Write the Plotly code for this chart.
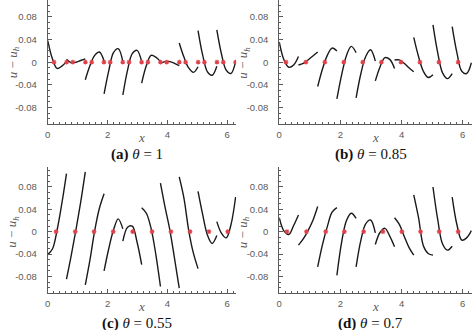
import plotly.graph_objects as go

# Element boundaries on [0, 2*pi] (10 cells)
EDGES = [0.0, 0.628, 1.257, 1.885, 2.513, 3.142, 3.770, 4.398, 5.027, 5.655, 6.283]
# sample fractions inside each cell
FRAC = [0.0, 0.25, 0.5, 0.75, 1.0]

# Pointwise error u - u_h in each cell, sampled at FRAC
ERR_A = [
    [0.038, 0.006, -0.011, -0.007, 0.001],
    [0.005, -0.001, 0.000, 0.003, 0.006],
    [-0.031, -0.006, 0.012, 0.018, 0.002],
    [-0.056, -0.015, 0.017, 0.024, 0.001],
    [-0.058, -0.014, 0.015, 0.021, 0.001],
    [-0.037, -0.006, 0.012, 0.009, 0.001],
    [-0.002, 0.001, 0.001, -0.002, -0.006],
    [0.034, 0.009, -0.010, -0.018, -0.008],
    [0.056, 0.012, -0.017, -0.023, -0.007],
    [0.057, 0.014, -0.014, -0.020, 0.001],
]
ERR_B = [
    [0.036, 0.004, -0.009, -0.005, 0.010],
    [-0.005, -0.002, 0.004, 0.011, 0.018],
    [-0.043, -0.012, 0.012, 0.025, 0.020],
    [-0.065, -0.022, 0.012, 0.028, 0.017],
    [-0.063, -0.020, 0.010, 0.022, 0.002],
    [-0.033, -0.008, 0.008, 0.005, -0.011],
    [0.004, 0.004, -0.002, -0.010, -0.017],
    [0.044, 0.010, -0.016, -0.027, -0.022],
    [0.066, 0.016, -0.019, -0.029, -0.020],
    [0.063, 0.016, -0.016, -0.020, -0.001],
]
ERR_C = [
    [-0.041, -0.031, 0.003, 0.050, 0.104],
    [-0.085, -0.043, 0.003, 0.052, 0.107],
    [-0.095, -0.050, 0.002, 0.042, 0.068],
    [-0.070, -0.030, 0.003, 0.023, 0.005],
    [-0.017, 0.008, 0.010, -0.018, -0.059],
    [0.043, 0.033, 0.006, -0.040, -0.098],
    [0.087, 0.043, 0.003, -0.048, -0.101],
    [0.098, 0.060, 0.003, -0.038, -0.066],
    [0.072, 0.030, -0.006, -0.021, -0.007],
    [0.018, -0.003, -0.011, 0.012, 0.062],
]
ERR_D = [
    [0.025, 0.001, -0.005, 0.011, 0.030],
    [-0.024, -0.013, 0.002, 0.020, 0.045],
    [-0.063, -0.023, 0.009, 0.035, 0.043],
    [-0.078, -0.018, 0.020, 0.033, 0.024],
    [-0.063, -0.015, 0.014, 0.021, -0.002],
    [-0.023, -0.001, 0.006, -0.008, -0.027],
    [0.025, 0.013, -0.008, -0.028, -0.042],
    [0.066, 0.025, -0.025, -0.039, -0.042],
    [0.080, 0.021, -0.022, -0.033, -0.026],
    [0.062, 0.012, -0.015, -0.011, 0.002],
]

# Superconvergence points (marked on the zero line)
PTS_A = [0.21, 0.63, 0.84, 1.26, 1.47, 1.88, 2.09, 2.51, 2.72, 3.14,
         3.35, 3.77, 3.98, 4.40, 4.61, 5.03, 5.24, 5.66, 5.87, 6.28]
PTS_B = [0.22, 0.87, 1.49, 2.11, 2.73, 3.34, 3.98, 4.60, 5.22, 5.85]
PTS_C = [0.28, 0.92, 1.55, 2.19, 2.84, 3.49, 4.12, 4.76, 5.39, 6.02]
PTS_D = [0.25, 0.89, 1.52, 2.13, 2.76, 3.39, 4.01, 4.62, 5.23, 5.85]

CAPTIONS = ["<b>(a)</b> <i>θ</i> = 1", "<b>(b)</b> <i>θ</i> = 0.85",
            "<b>(c)</b> <i>θ</i> = 0.55", "<b>(d)</b> <i>θ</i> = 0.7"]

Y_TICKS = [-0.08, -0.04, 0, 0.04, 0.08]
Y_LABELS = ["-0.08", "-0.04", "0", "0.04", "0.08"]
X_TICKS = [0, 2, 4, 6]
X_LABELS = ["0", "2", "4", "6"]

W, H = 474, 330
GRAY = "#5a5a5a"
STAR = "#e0404a"
SERIF = "Liberation Serif"
SANS = "Liberation Sans"

panels = [
    (ERR_A, PTS_A, (45, 234.6), (0.0, 124.4), [-0.11, 0.11]),
    (ERR_B, PTS_B, (278, 471.9), (0.0, 124.4), [-0.11, 0.11]),
    (ERR_C, PTS_C, (45, 234.6), (167.4, 293.2), [-0.11, 0.115]),
    (ERR_D, PTS_D, (278, 471.9), (167.4, 293.2), [-0.11, 0.115]),
]

fig = go.Figure()
layout = dict(width=W, height=H, margin=dict(l=0, r=0, t=0, b=0),
              plot_bgcolor="white", paper_bgcolor="white", showlegend=False,
              annotations=[])

for i, (err, pts, (x0, x1), (ytop, ybot), yr) in enumerate(panels):
    n = i + 1
    xa = "x" if n == 1 else f"x{n}"
    ya = "y" if n == 1 else f"y{n}"
    for k, vals in enumerate(err):
        a, b = EDGES[k], EDGES[k + 1]
        xs = [a + f * (b - a) for f in FRAC]
        fig.add_trace(go.Scatter(x=xs, y=vals, mode="lines",
                                 line=dict(color="#1a1a1a", width=1.4, shape="spline"),
                                 xaxis=xa, yaxis=ya, hoverinfo="skip"))
    fig.add_trace(go.Scatter(x=pts, y=[0] * len(pts), mode="markers",
                             marker=dict(symbol="asterisk-open", size=4, color=STAR,
                                         line=dict(color=STAR, width=1.1)),
                             xaxis=xa, yaxis=ya, hoverinfo="skip"))

    xkey = "xaxis" if n == 1 else f"xaxis{n}"
    ykey = "yaxis" if n == 1 else f"yaxis{n}"
    layout[xkey] = dict(
        domain=[x0 / W, x1 / W], range=[0, 6.30], anchor=ya,
        showline=True, linecolor=GRAY, linewidth=1, showgrid=False, zeroline=False,
        ticks="inside", ticklen=4, tickcolor=GRAY, tickwidth=1,
        tickmode="array", tickvals=X_TICKS, ticktext=X_LABELS,
        minor=dict(ticks="inside", ticklen=2, tickcolor=GRAY, dtick=0.2, tick0=0),
        tickfont=dict(family=SANS, size=9.5, color=GRAY), ticklabelstandoff=1,
    )
    layout[ykey] = dict(
        domain=[1 - ybot / H, 1 - ytop / H], range=yr, anchor=xa,
        showline=True, linecolor=GRAY, linewidth=1, showgrid=False, zeroline=False,
        ticks="inside", ticklen=4, tickcolor=GRAY, tickwidth=1,
        tickmode="array", tickvals=Y_TICKS, ticktext=Y_LABELS,
        minor=dict(ticks="inside", ticklen=2, tickcolor=GRAY, dtick=0.01, tick0=0),
        tickfont=dict(family=SANS, size=9.5, color=GRAY), ticklabelstandoff=8,
    )

    # axis titles and caption
    xc = (x0 + x1) / 2
    yzero = ytop + (ybot - ytop) * yr[1] / (yr[1] - yr[0])
    ylab_x = 10 if x0 < 100 else 242
    common = dict(xref="paper", yref="paper", showarrow=False,
                  xanchor="center", yanchor="middle")
    layout["annotations"] += [
        dict(text="<i>u</i> − <i>u</i><sub><i>h</i></sub>", textangle=-90,
             x=ylab_x / W, y=1 - yzero / H,
             font=dict(family=SERIF, size=13, color=GRAY), **common),
        dict(text="<i>x</i>", x=xc / W, y=1 - (ybot + 13) / H,
             font=dict(family=SERIF, size=13, color=GRAY), **common),
        dict(text=CAPTIONS[i], x=(xc - 5) / W, y=1 - (ybot + 30) / H,
             font=dict(family=SERIF, size=15, color="#111"), **common),
    ]

fig.update_layout(**layout)
fig.write_html("out.html")
